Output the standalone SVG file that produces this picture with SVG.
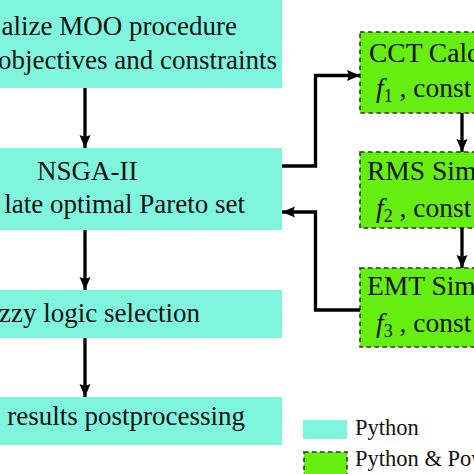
<svg xmlns="http://www.w3.org/2000/svg" width="474" height="474" viewBox="0 0 474 474">
<defs>
<marker id="ah" markerUnits="userSpaceOnUse" markerWidth="14" markerHeight="12" refX="13" refY="6" orient="auto">
<path d="M0,0.5 L13,6 L0,11.5 L2,6 Z" fill="#000"/>
</marker>
<style>
.py{fill:#80F5DE;stroke:none}
.pf{fill:#66EE11;stroke:#2a3a1a;stroke-width:1.6;stroke-dasharray:4.5,3.5}
.t{font-family:"Liberation Serif","Times New Roman",serif;font-size:27px;fill:#111}
.r{font-family:"Liberation Serif","Times New Roman",serif;font-size:27.5px;fill:#111}
.l{font-family:"Liberation Serif","Times New Roman",serif;font-size:22.5px;fill:#111}
.c{fill:none;stroke:#000;stroke-width:3.3;marker-end:url(#ah)}
</style>
</defs>
<rect width="474" height="474" fill="#fff"/>
<g id="init">
<rect class="py" x="-120" y="-5" width="402" height="93"/>
<text class="t" x="237" y="35" text-anchor="end">alize MOO procedure</text>
<text class="t" x="277" y="69" text-anchor="end">objectives and constraints</text>
</g>
<g id="nsga">
<rect class="py" x="-120" y="148" width="402" height="82"/>
<text class="t" x="37" y="180">NSGA-II</text>
<text class="t" x="245" y="213" text-anchor="end">late optimal Pareto set</text>
</g>
<g id="fuzzy">
<rect class="py" x="-120" y="290" width="402" height="48"/>
<text class="t" x="200" y="322" text-anchor="end">zzy logic selection</text>
</g>
<g id="post">
<rect class="py" x="-120" y="397" width="402" height="48"/>
<text class="t" x="245" y="425" text-anchor="end">results postprocessing</text>
</g>
<g id="cct">
<rect class="pf" x="360" y="32" width="130" height="81"/>
<text class="r" x="369" y="62">CCT Calc</text>
<text class="r" x="376" y="97"><tspan font-style="italic">f</tspan><tspan font-size="18" dy="5">1</tspan><tspan dy="-5"> , const</tspan></text>
</g>
<g id="rms">
<rect class="pf" x="360" y="152" width="130" height="76"/>
<text class="r" x="367" y="180">RMS Sim</text>
<text class="r" x="376" y="217"><tspan font-style="italic">f</tspan><tspan font-size="18" dy="5">2</tspan><tspan dy="-5"> , const</tspan></text>
</g>
<g id="emt">
<rect class="pf" x="360" y="268" width="130" height="79"/>
<text class="r" x="367" y="295">EMT Sim</text>
<text class="r" x="376" y="332"><tspan font-style="italic">f</tspan><tspan font-size="18" dy="5">3</tspan><tspan dy="-5"> , const</tspan></text>
</g>
<g id="legend">
<rect class="py" x="303" y="420" width="44" height="19"/>
<text class="l" x="355" y="435">Python</text>
<rect class="pf" x="304" y="452" width="43" height="30"/>
<text class="l" x="355" y="466">Python &amp; Pow</text>
</g>
<g id="connectors">
<path class="c" d="M85,88 V148"/>
<path class="c" d="M85,230 V290"/>
<path class="c" d="M85,338 V397"/>
<path class="c" d="M282,166 H315.5 V75.5 H360"/>
<path class="c" d="M360,310 H315.5 V212 H282"/>
<path class="c" d="M462,113 V152"/>
<path class="c" d="M462,228 V268"/>
</g>
</svg>
